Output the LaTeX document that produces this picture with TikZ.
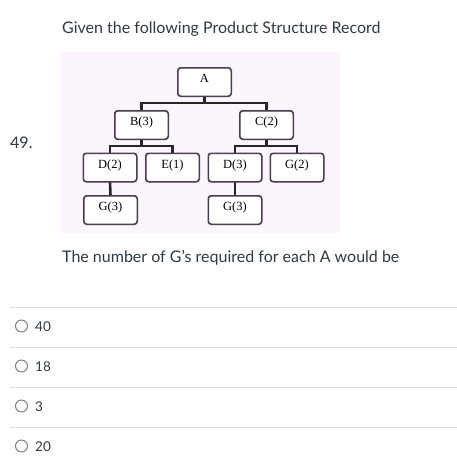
\documentclass[tikz,border=0pt]{standalone}
\usepackage{fontspec}
\setmainfont{Lato}
\newfontfamily\boxfont{Liberation Serif}
\definecolor{canvastext}{HTML}{2D3B45}
\definecolor{pinkbg}{HTML}{FDF5FD}
\definecolor{boxline}{HTML}{4A3F4F}
\definecolor{sepline}{HTML}{DDDDDD}
\definecolor{radiogray}{HTML}{777777}
\tikzset{
  partbox/.style={draw=boxline, line width=1pt, fill=white, rounded corners=3pt,
    minimum width=53pt, minimum height=28pt, inner sep=0pt, font=\boxfont\fontsize{12.5}{14}\selectfont,
    text depth=7pt},
  link/.style={line width=2.6pt, draw=black!85},
  qtext/.style={anchor=base west, text=canvastext, inner sep=0pt, font=\fontsize{16}{19}\selectfont},
  opttext/.style={anchor=base west, text=canvastext, inner sep=0pt, font=\fontsize{13.5}{16}\selectfont},
  radio/.style={draw=radiogray, line width=0.9pt, circle, minimum size=12pt, inner sep=0pt},
  sep/.style={draw=sepline, line width=1pt}
}
\begin{document}
\begin{tikzpicture}[x=1pt,y=-1pt]
\useasboundingbox (0,0) rectangle (457,464);
\fill[white] (0,0) rectangle (457,464);
% header
\node[qtext] (title) at (62,33) {Given the following Product Structure Record};
\node[qtext] (num) at (10,148) {49.};
% diagram background
\fill[pinkbg] (61,52) rectangle (340,233);
% boxes
\node[partbox] (A) at (204.5,82) {A};
\node[partbox] (B) at (141.5,125) {B(3)};
\node[partbox] (C) at (266.5,125) {C(2)};
\node[partbox] (D2) at (110,167.5) {D(2)};
\node[partbox] (E) at (172.5,167.5) {E(1)};
\node[partbox] (D3) at (235,167.5) {D(3)};
\node[partbox] (G2) at (297,167.5) {G(2)};
\node[partbox] (G3a) at (110.5,210) {G(3)};
\node[partbox] (G3b) at (235,210) {G(3)};
% connectors
\draw[link] (A.south) |- (B.north |- 0,103) -- (B.north);
\draw[link] (A.south) |- (C.north |- 0,103) -- (C.north);
\draw[link] (B.south) |- (D2.north |- 0,146) -- (D2.north);
\draw[link] (B.south) |- (E.north |- 0,146) -- (E.north);
\draw[link] (C.south) |- (D3.north |- 0,146) -- (D3.north);
\draw[link] (C.south) |- (G2.north |- 0,146) -- (G2.north);
\draw[link] (D2.south) -- (G3a.north);
\draw[link] (D3.south) -- (G3b.north);
% redraw box outlines on top of connector ends
\foreach \n in {A,B,C,D2,E,D3,G2,G3a,G3b} {\draw[boxline, line width=1pt, rounded corners=3pt] (\n.south west) rectangle (\n.north east);}
% question
\node[qtext] (q) at (62,262) {The number of G's required for each A would be};
% options
\draw[sep] (10,307) -- (457,307);
\draw[sep] (10,347) -- (457,347);
\draw[sep] (10,387) -- (457,387);
\draw[sep] (10,427) -- (457,427);
\node[radio] (r1) at (21.5,326) {};
\node[radio] (r2) at (21.5,366) {};
\node[radio] (r3) at (21.5,406) {};
\node[radio] (r4) at (21.5,446) {};
\node[opttext] (o1) at (35,331) {40};
\node[opttext] (o2) at (35,371) {18};
\node[opttext] (o3) at (35,411) {3};
\node[opttext] (o4) at (35,451) {20};
\end{tikzpicture}
\end{document}
